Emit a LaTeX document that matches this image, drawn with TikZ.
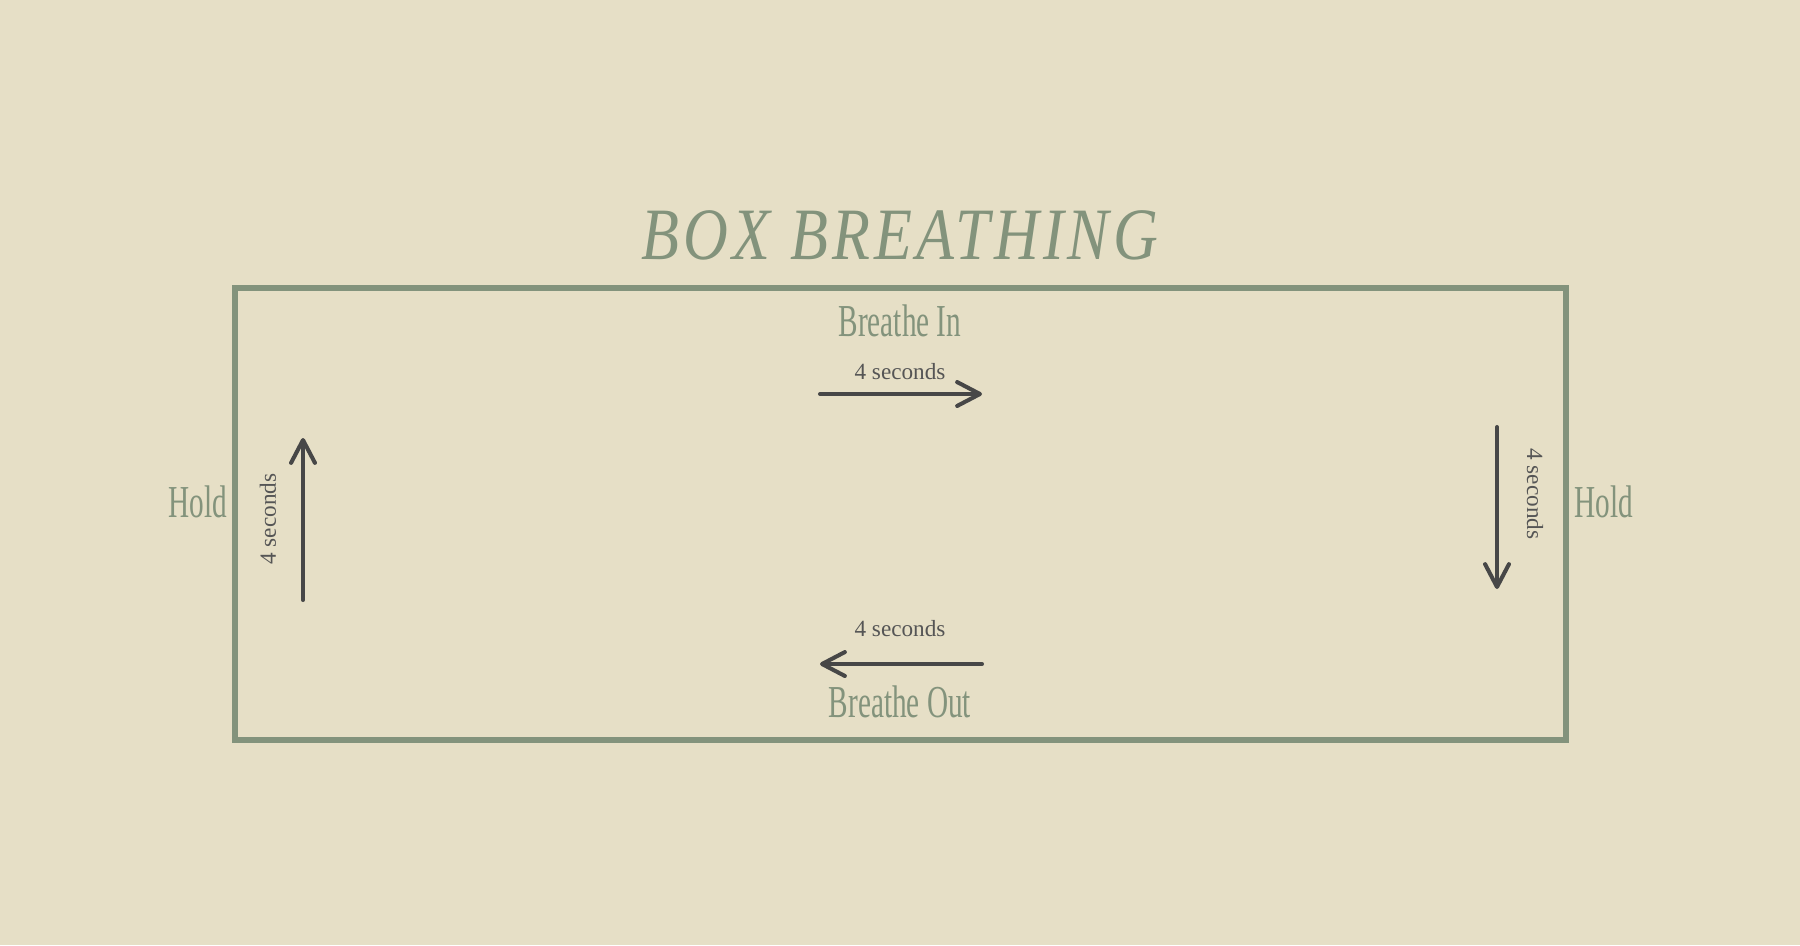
\documentclass[tikz,border=0pt]{standalone}
\usepackage{fontspec}
\usepackage{xcolor}
\usetikzlibrary{positioning,arrows.meta}
\setmainfont{Liberation Serif}
\newfontfamily\titlefont[FakeStretch=0.84,LetterSpace=5.5]{Liberation Serif}
\newfontfamily\condfont[FakeStretch=0.64]{Liberation Serif}

\definecolor{sand}{HTML}{E6DFC6}
\definecolor{sage}{HTML}{83937C}
\definecolor{charcoal}{HTML}{474747}
\definecolor{ash}{HTML}{555555}

\tikzset{
  phaselabel/.style={text=sage, inner sep=0pt, font=\condfont\fontsize{13}{15}\selectfont},
  seclabel/.style={text=ash, inner sep=0pt, font=\fontsize{6.6}{8}\selectfont},
  breatharrow/.style={draw=charcoal, line width=1.15pt, line cap=round,
    -{Straight Barb[length=6.5pt,width=6.8pt,round]}}
}

\begin{document}
\begin{tikzpicture}[x=0.01cm, y=-0.01cm]
  \fill[sand] (0,0) rectangle (1800,945);
  \useasboundingbox (0,0) rectangle (1800,945);

  \node[draw=sage, line width=1.7pt, minimum width=13.31cm, minimum height=4.52cm, inner sep=0pt] (box) at (900.5,514) {};

  \node[text=sage, inner sep=0pt, font=\titlefont\itshape\fontsize{21}{24}\selectfont] (title) at (900,235) {BOX BREATHING};

  \node[phaselabel] (inlabel) at (900,321) {Breathe In};
  \node[phaselabel] (outlabel) at (900,702) {Breathe Out};
  \node[phaselabel] (holdleft) at (198,502) {Hold};
  \node[phaselabel] (holdright) at (1604,502) {Hold};

  % arrows
  \coordinate (inS) at (820,394);
  \coordinate (inE) at (982,394);
  \coordinate (outS) at (982,664);
  \coordinate (outE) at (820,664);
  \coordinate (upS) at (303,600);
  \coordinate (upE) at (303,438);
  \coordinate (downS) at (1497,427);
  \coordinate (downE) at (1497,589);

  \draw[breatharrow] (inS) -- (inE);
  \draw[breatharrow] (outS) -- (outE);
  \draw[breatharrow] (upS) -- (upE);
  \draw[breatharrow] (downS) -- (downE);

  \node[seclabel] (insec) at (900,372) {4 seconds};
  \node[seclabel] (outsec) at (900,629) {4 seconds};
  \node[seclabel, rotate=90] (upsec) at (268,519) {4 seconds};
  \node[seclabel, rotate=-90] (downsec) at (1535,494) {4 seconds};
\end{tikzpicture}
\end{document}
